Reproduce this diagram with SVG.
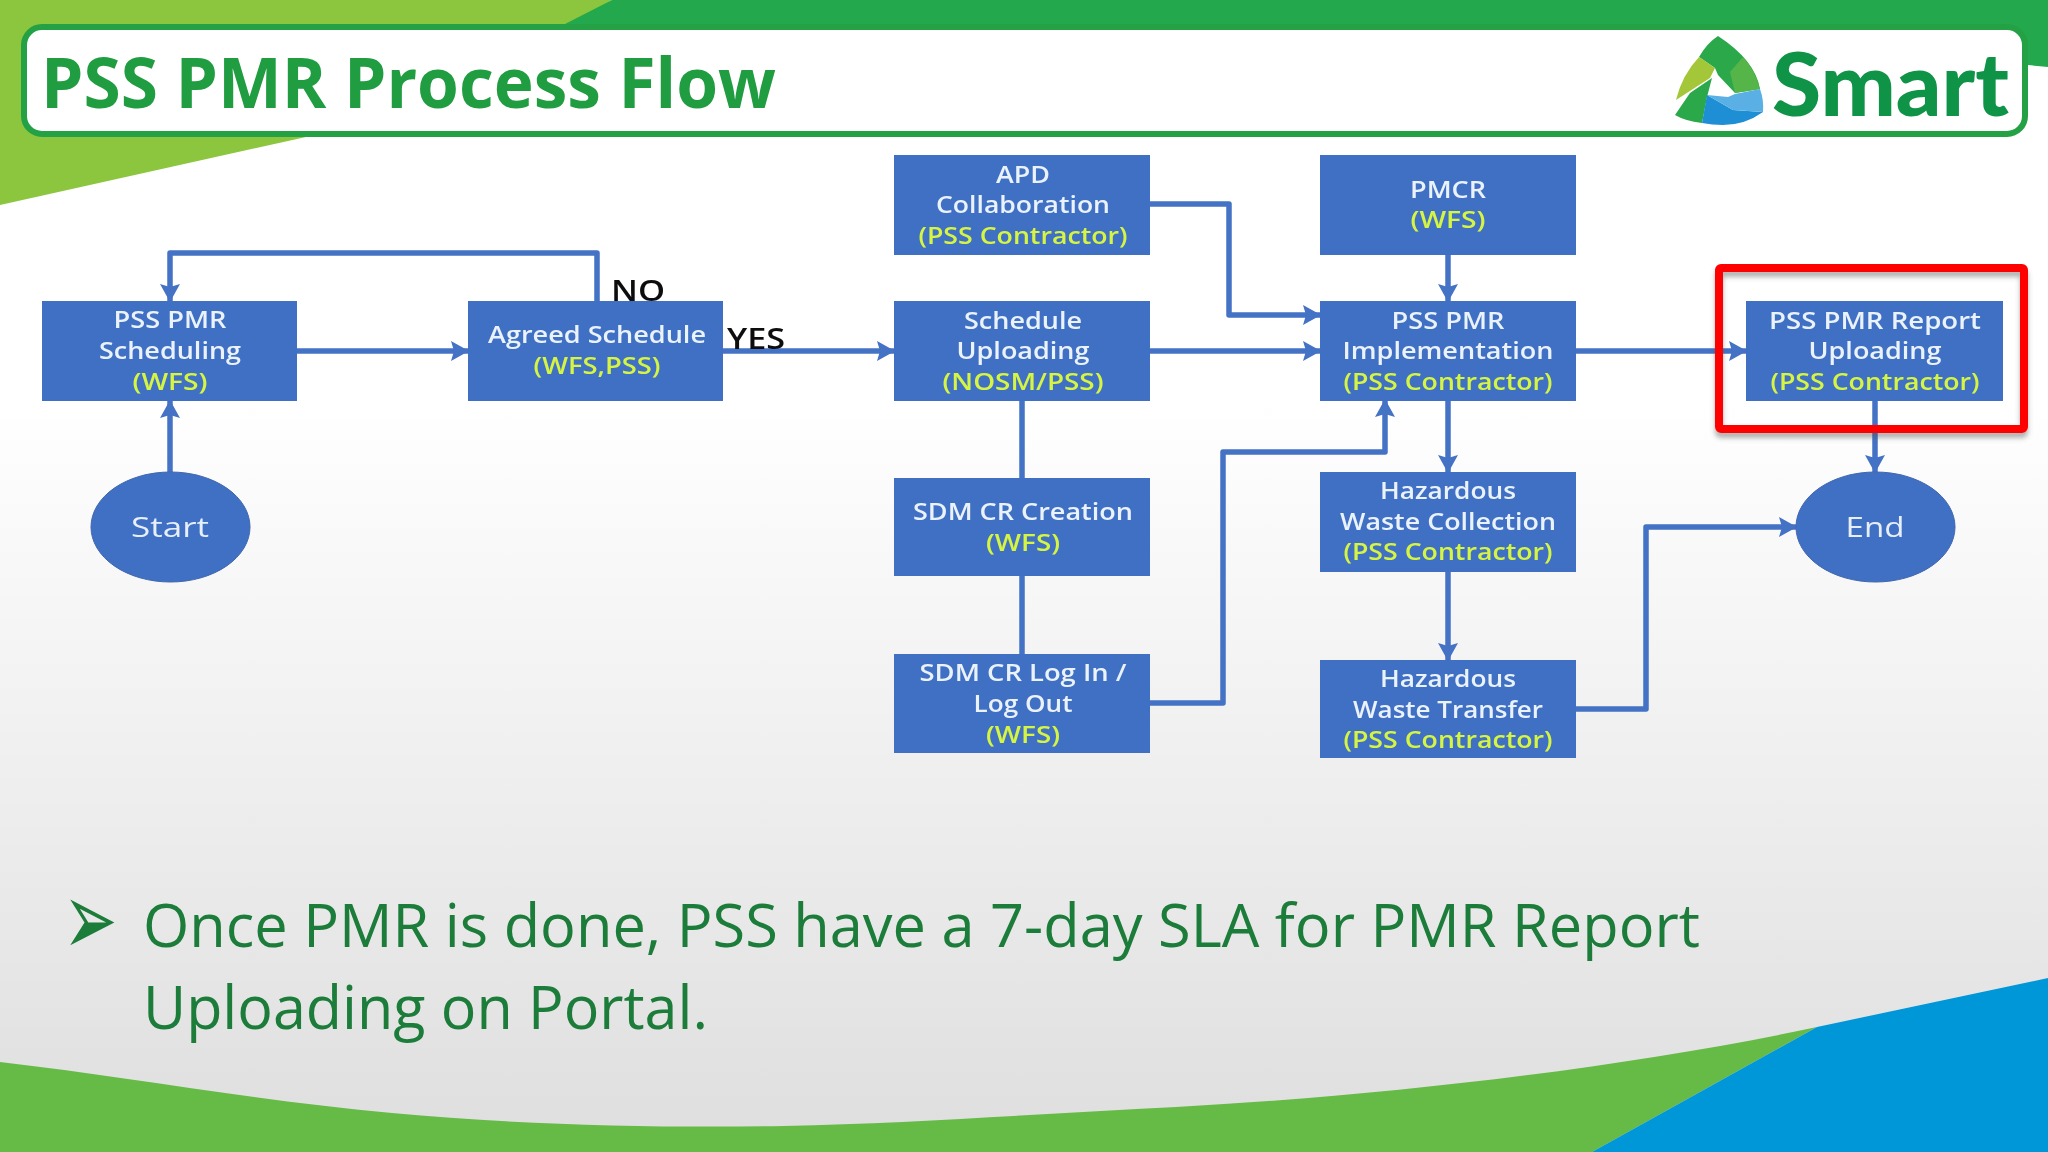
<svg xmlns="http://www.w3.org/2000/svg" width="2048" height="1152" viewBox="0 0 2048 1152">
<defs>
<linearGradient id="bg" x1="0" y1="0" x2="0" y2="1"><stop offset="0.35" stop-color="#ffffff"/><stop offset="0.98" stop-color="#dfdfe0"/></linearGradient>
<marker id="arrow" markerUnits="userSpaceOnUse" markerWidth="18" markerHeight="20" viewBox="0 0 18 20" refX="17" refY="10" orient="auto"><path d="M0 0L18 10L0 20L3 10Z" fill="#4472c4"/></marker>
<filter id="shadow" x="-5%" y="-5%" width="110%" height="115%"><feDropShadow dx="0" dy="5" stdDeviation="2.5" flood-color="#555" flood-opacity="0.45"/></filter>
<filter id="soft" x="-5%" y="-20%" width="110%" height="140%"><feGaussianBlur stdDeviation="0.55"/></filter>
</defs>
<style>
text{font-family:"Open Sans","Liberation Sans",sans-serif}
.box{fill:#4070c4}
.oval{fill:#4070c4;stroke:#3f66ae;stroke-width:1}
.t{font-size:23px;font-weight:600;fill:#eaf2fb;text-anchor:middle;filter:url(#soft)}
.y{font-size:23px;font-weight:600;fill:#d6f542;text-anchor:middle;filter:url(#soft)}
.big{font-size:28px;fill:#e6effa;text-anchor:middle;filter:url(#soft)}
.lab{font-size:28px;font-weight:600;fill:#0c0c0c;filter:url(#soft)}
.c{fill:none;stroke:#4472c4;stroke-width:5.5;stroke-linejoin:round}
.a{marker-end:url(#arrow)}
.bul{font-size:61px;fill:#1c7c39}
</style>
<rect width="2048" height="1152" fill="url(#bg)"/>
<g id="background">
<path d="M0 0H612L565 30L306 137L0 205Z" fill="#8cc63f"/>
<path d="M612 0H2048V67L2028 65L2000 60V24H565Z" fill="#23a84d"/>
<path d="M0 1062C130 1077 250 1100 392 1113C520 1125 660 1128 784 1126C920 1123 1050 1113 1176 1107C1400 1095 1640 1065 1817 1027L1592 1152H0Z" fill="#66bb46"/>
<path d="M1817 1027L2048 978V1152H1592Z" fill="#0097d9"/>
</g>
<g id="header">
<rect x="24" y="27" width="2001" height="107" rx="18" fill="#fff" stroke="#23a144" stroke-width="6"/>
<text x="41" y="108" font-size="70" font-weight="700" fill="#209c41" textLength="735" lengthAdjust="spacingAndGlyphs">PSS PMR Process Flow</text>
</g>
<g id="logo">
<path d="M1718 36Q1707 43 1699 57L1715 68L1718 75L1735 93L1760 89Q1755 60 1718 36Z" fill="#2aa84a"/>
<path d="M1743 57Q1755 70 1760 89L1735 93L1730 72Z" fill="#55b548"/>
<path d="M1699 57L1715 68L1710 78L1676 100Q1682 75 1699 57Z" fill="#a4c639"/>
<path d="M1675 115L1690 93L1712 78L1707 97L1702 123Q1685 121 1675 115Z" fill="#2aa84a"/>
<path d="M1707 95L1733 110L1763 112Q1745 125 1723 125Q1712 125 1702 123Z" fill="#1e8fd5"/>
<path d="M1707 95L1728 97L1735 94L1760 89Q1764 100 1763 112L1733 110Z" fill="#5ab0e5"/>
<text x="1772" y="116" font-size="88" font-weight="900" fill="#0f9347" style="font-family:Lato,'Open Sans',sans-serif" textLength="237" lengthAdjust="spacingAndGlyphs">Smart</text>
</g>
<g id="connectors">
<path class="c a" d="M597 301V253H170V301"/>
<path class="c a" d="M170 472V401"/>
<path class="c a" d="M297 351H468"/>
<path class="c a" d="M723 351H894"/>
<path class="c" d="M1022 400V478M1022 576V654"/>
<path class="c a" d="M1150 204H1229V315H1320"/>
<path class="c a" d="M1150 351H1320"/>
<path class="c a" d="M1150 703H1223V452H1385V400"/>
<path class="c a" d="M1448 255V301"/>
<path class="c a" d="M1448 400V472"/>
<path class="c a" d="M1448 571V660"/>
<path class="c a" d="M1576 351H1746"/>
<path class="c a" d="M1875 401V472"/>
<path class="c a" d="M1576 709H1646V527H1796"/>
<text class="lab" x="611" y="301" textLength="54" lengthAdjust="spacingAndGlyphs">NO</text>
<text class="lab" x="727" y="349" textLength="58" lengthAdjust="spacingAndGlyphs">YES</text>
</g>
<g id="node-start"><ellipse cx="170.5" cy="527" rx="79.5" ry="55" class="oval"/><text class="big" x="170" y="537" textLength="78" lengthAdjust="spacingAndGlyphs">Start</text></g>
<g id="node-scheduling"><rect x="42" y="301" width="255" height="100" class="box"/>
<text class="t" x="170" y="328" textLength="113" lengthAdjust="spacingAndGlyphs">PSS PMR</text>
<text class="t" x="170" y="359" textLength="142" lengthAdjust="spacingAndGlyphs">Scheduling</text>
<text class="y" x="170" y="390" textLength="75" lengthAdjust="spacingAndGlyphs">(WFS)</text></g>
<g id="node-agreed"><rect x="468" y="301" width="255" height="100" class="box"/>
<text class="t" x="597" y="343" textLength="218" lengthAdjust="spacingAndGlyphs">Agreed Schedule</text>
<text class="y" x="597" y="374" textLength="127" lengthAdjust="spacingAndGlyphs">(WFS,PSS)</text></g>
<g id="node-apd"><rect x="894" y="155" width="256" height="100" class="box"/>
<text class="t" x="1023" y="183" textLength="54" lengthAdjust="spacingAndGlyphs">APD</text>
<text class="t" x="1023" y="213" textLength="174" lengthAdjust="spacingAndGlyphs">Collaboration</text>
<text class="y" x="1023" y="244" textLength="209" lengthAdjust="spacingAndGlyphs">(PSS Contractor)</text></g>
<g id="node-upload"><rect x="894" y="301" width="256" height="100" class="box"/>
<text class="t" x="1023" y="329" textLength="118" lengthAdjust="spacingAndGlyphs">Schedule</text>
<text class="t" x="1023" y="359" textLength="133" lengthAdjust="spacingAndGlyphs">Uploading</text>
<text class="y" x="1023" y="390" textLength="161" lengthAdjust="spacingAndGlyphs">(NOSM/PSS)</text></g>
<g id="node-sdm-create"><rect x="894" y="478" width="256" height="98" class="box"/>
<text class="t" x="1023" y="520" textLength="220" lengthAdjust="spacingAndGlyphs">SDM CR Creation</text>
<text class="y" x="1023" y="551" textLength="74" lengthAdjust="spacingAndGlyphs">(WFS)</text></g>
<g id="node-sdm-log"><rect x="894" y="654" width="256" height="99" class="box"/>
<text class="t" x="1023" y="681" textLength="207" lengthAdjust="spacingAndGlyphs">SDM CR Log In /</text>
<text class="t" x="1023" y="712" textLength="99" lengthAdjust="spacingAndGlyphs">Log Out</text>
<text class="y" x="1023" y="743" textLength="74" lengthAdjust="spacingAndGlyphs">(WFS)</text></g>
<g id="node-pmcr"><rect x="1320" y="155" width="256" height="100" class="box"/>
<text class="t" x="1448" y="198" textLength="76" lengthAdjust="spacingAndGlyphs">PMCR</text>
<text class="y" x="1448" y="228" textLength="75" lengthAdjust="spacingAndGlyphs">(WFS)</text></g>
<g id="node-impl"><rect x="1320" y="301" width="256" height="100" class="box"/>
<text class="t" x="1448" y="329" textLength="113" lengthAdjust="spacingAndGlyphs">PSS PMR</text>
<text class="t" x="1448" y="359" textLength="211" lengthAdjust="spacingAndGlyphs">Implementation</text>
<text class="y" x="1448" y="390" textLength="209" lengthAdjust="spacingAndGlyphs">(PSS Contractor)</text></g>
<g id="node-haz-collect"><rect x="1320" y="472" width="256" height="100" class="box"/>
<text class="t" x="1448" y="499" textLength="136" lengthAdjust="spacingAndGlyphs">Hazardous</text>
<text class="t" x="1448" y="530" textLength="216" lengthAdjust="spacingAndGlyphs">Waste Collection</text>
<text class="y" x="1448" y="560" textLength="209" lengthAdjust="spacingAndGlyphs">(PSS Contractor)</text></g>
<g id="node-haz-transfer"><rect x="1320" y="660" width="256" height="98" class="box"/>
<text class="t" x="1448" y="687" textLength="136" lengthAdjust="spacingAndGlyphs">Hazardous</text>
<text class="t" x="1448" y="718" textLength="190" lengthAdjust="spacingAndGlyphs">Waste Transfer</text>
<text class="y" x="1448" y="748" textLength="209" lengthAdjust="spacingAndGlyphs">(PSS Contractor)</text></g>
<g id="node-report"><rect x="1746" y="301" width="257" height="100" class="box"/>
<text class="t" x="1875" y="329" textLength="212" lengthAdjust="spacingAndGlyphs">PSS PMR Report</text>
<text class="t" x="1875" y="359" textLength="133" lengthAdjust="spacingAndGlyphs">Uploading</text>
<text class="y" x="1875" y="390" textLength="209" lengthAdjust="spacingAndGlyphs">(PSS Contractor)</text></g>
<g id="node-end"><ellipse cx="1875.5" cy="527" rx="79.5" ry="55" class="oval"/><text class="big" x="1875" y="537" textLength="59" lengthAdjust="spacingAndGlyphs">End</text></g>
<rect id="highlight" x="1719" y="268" width="305" height="161" rx="2" fill="none" stroke="#fe0000" stroke-width="8" filter="url(#shadow)"/>
<g id="body">
<text transform="translate(63 955) scale(1.25 2)" x="0" y="0" font-size="52" fill="#1c7c39" style="font-family:'DejaVu Sans',sans-serif">➢</text>
<text class="bul" x="143" y="947" textLength="1557" lengthAdjust="spacingAndGlyphs">Once PMR is done, PSS have a 7-day SLA for PMR Report</text>
<text class="bul" x="143" y="1029" textLength="565" lengthAdjust="spacingAndGlyphs">Uploading on Portal.</text>
</g>
</svg>
